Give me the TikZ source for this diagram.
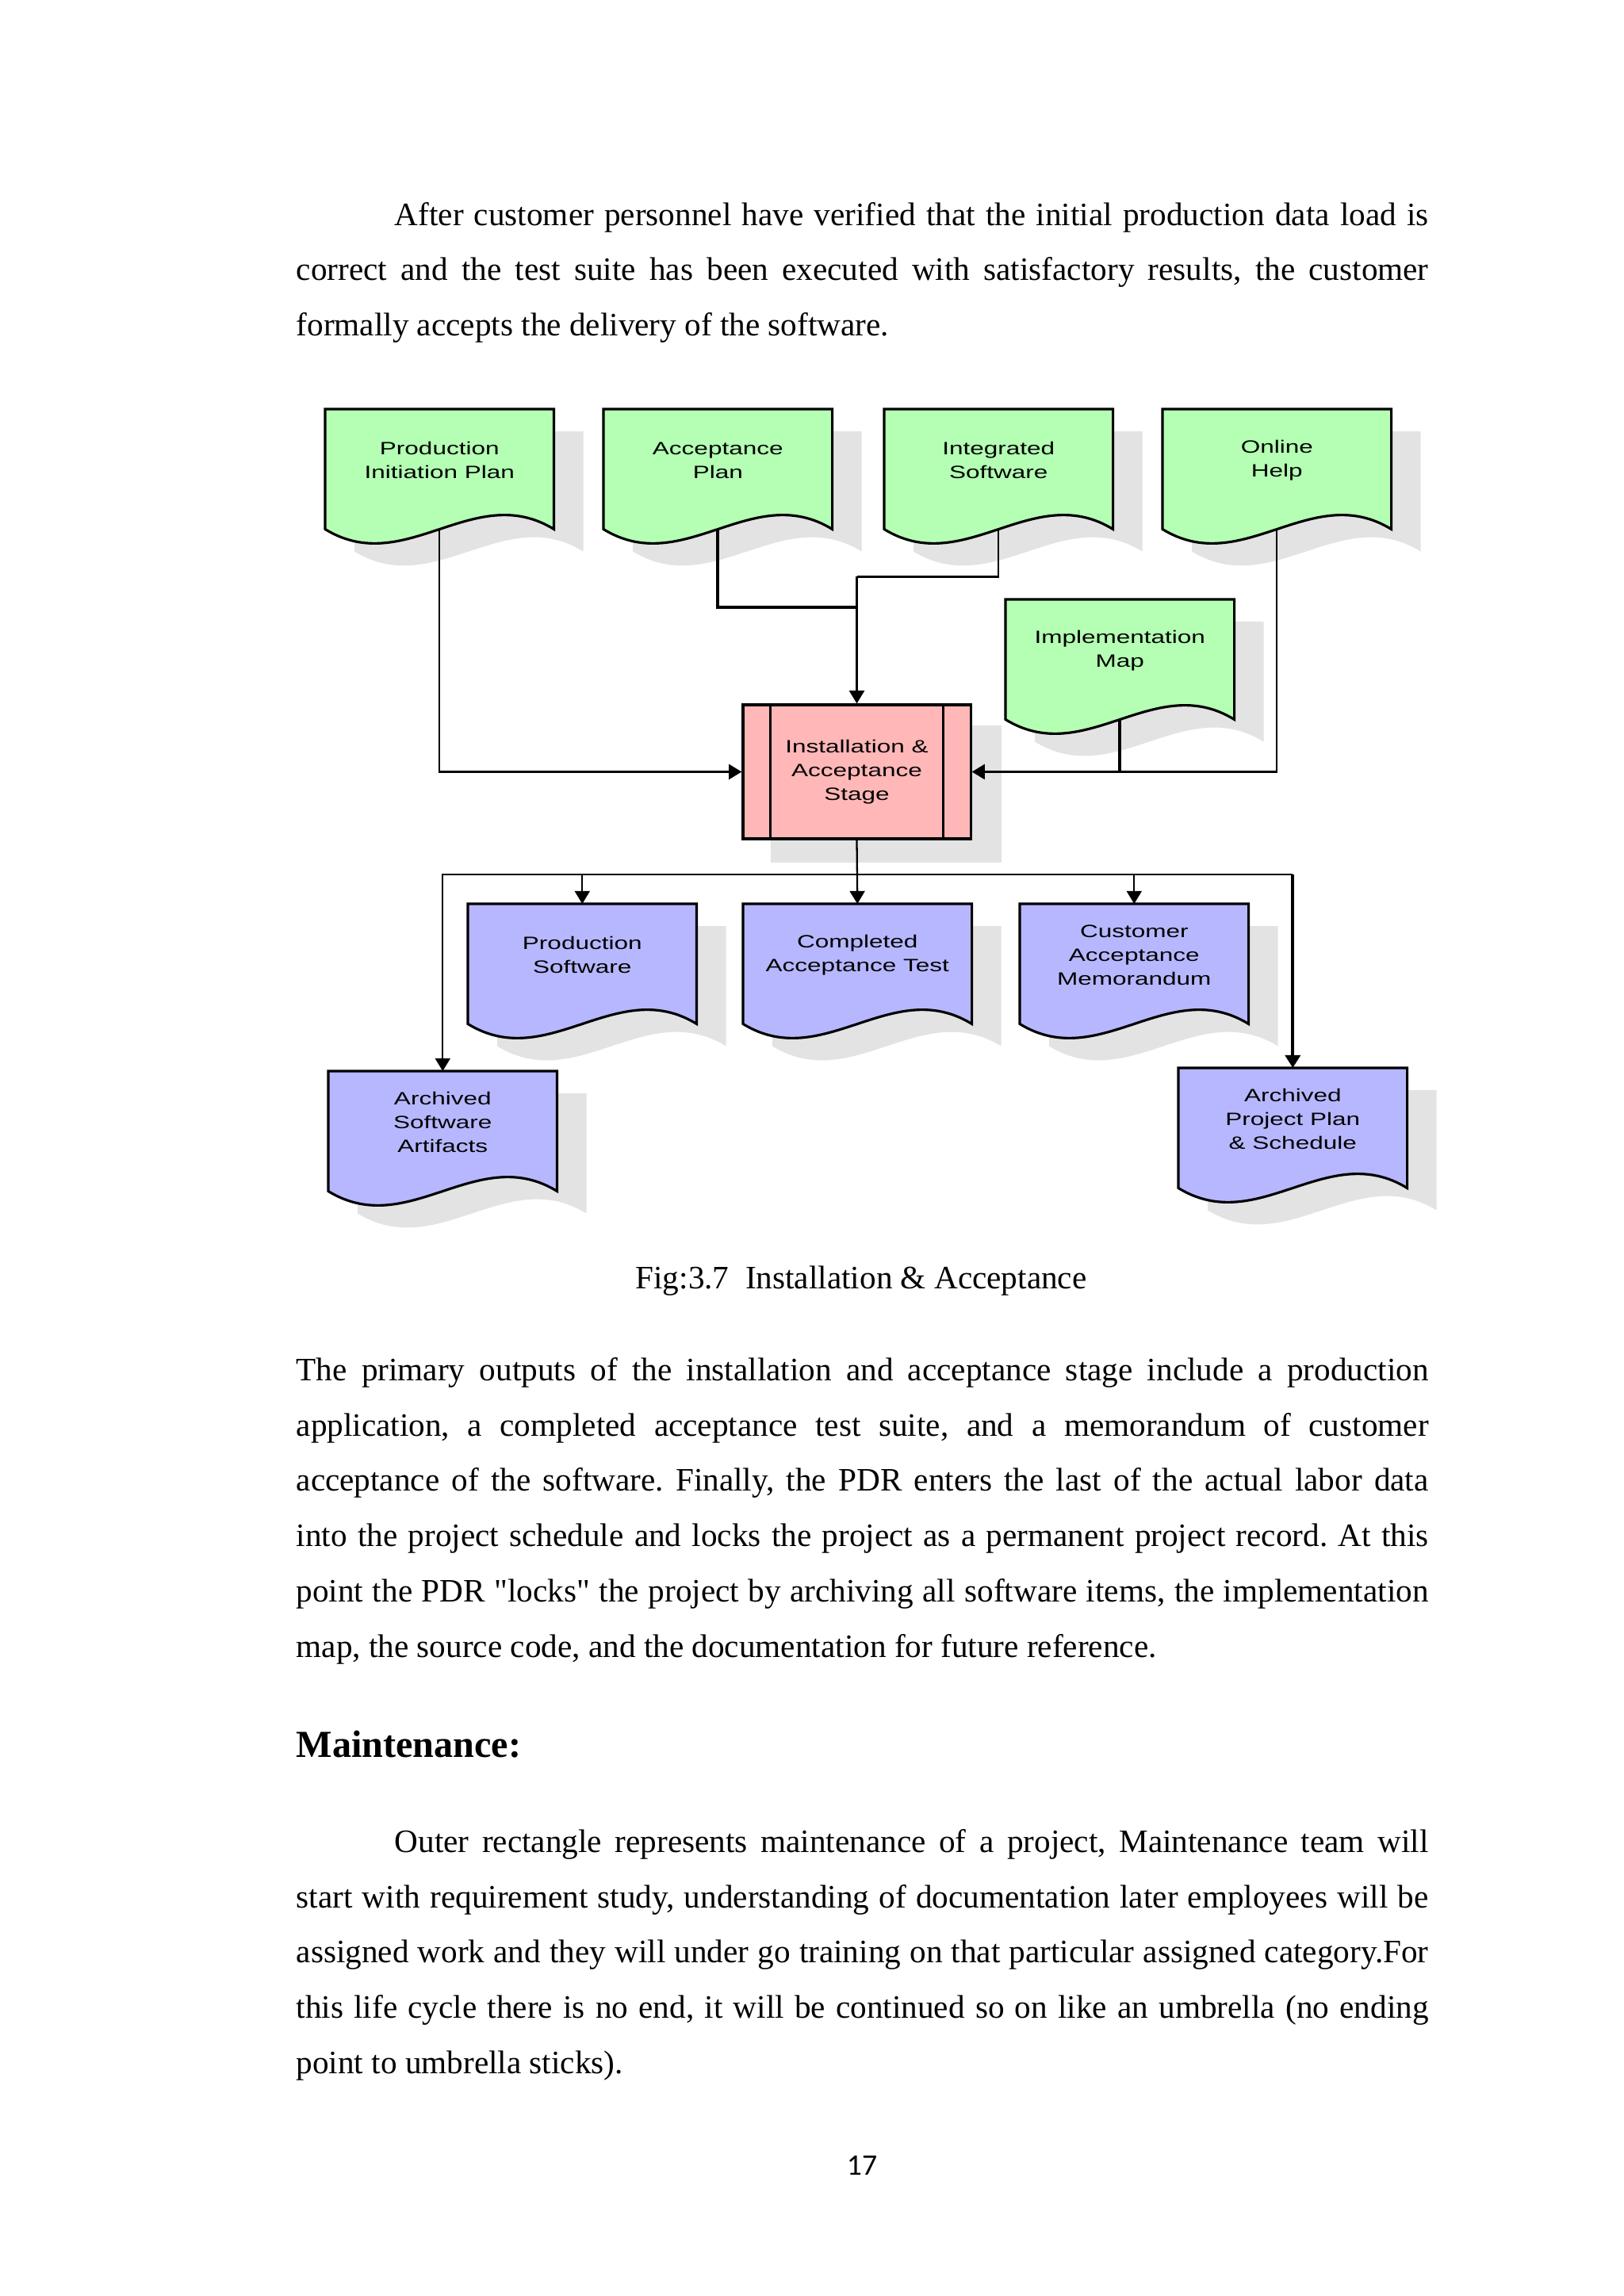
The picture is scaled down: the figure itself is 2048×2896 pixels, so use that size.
\documentclass[tikz,border=0pt]{standalone}
\usepackage{fontspec}
\setmainfont{Liberation Serif}[Ligatures=TeXOff]
\newfontfamily\diagfont[FakeStretch=1.4]{Liberation Sans}
\newfontfamily\numfont{Carlito}
\usetikzlibrary{calc,arrows.meta}
\pgfdeclarelayer{background}
\pgfsetlayers{background,main}

\tolerance=10000
\hyphenpenalty=10000
\frenchspacing

\definecolor{docgreen}{RGB}{180,255,180}
\definecolor{docblue}{RGB}{183,183,255}
\definecolor{stagepink}{RGB}{255,183,183}
\definecolor{shadowgray}{RGB}{227,227,227}

% wavy document outline round node #1, moved by (#2,#3)
\newcommand{\docpath}[3]{($(#1.north west)+(#2,#3)$) -- ($(#1.north east)+(#2,#3)$)
  -- ($(#1.south east)+(#2,22+#3)$)
  .. controls ($(#1.south west)!0.65!(#1.south east)+(#2,-40+#3)$)
  and ($(#1.south west)!0.35!(#1.south east)+(#2,84+#3)$)
  .. ($(#1.south west)+(#2,22+#3)$) -- cycle}

\tikzset{
  docnode/.style={anchor=north west, minimum width=2.87cm, minimum height=1.28cm,
    inner sep=0pt, align=center, font=\diagfont\fontsize{6.4}{8.5}\selectfont},
  stagebox/.style={draw, line width=0.9pt, fill=stagepink, minimum width=2.87cm,
    minimum height=1.69cm, inner sep=0pt, align=center,
    font=\diagfont\fontsize{6.4}{8.5}\selectfont},
  conn/.style={line width=0.65pt},
  thickconn/.style={line width=1.2pt},
  flowarrow/.style={-{Triangle[length=4.6pt,width=5.4pt]}},
  para/.style={anchor=base west, inner sep=0pt, text width=14.27cm, align=justify,
    font=\fontsize{11.72}{19.9}\selectfont},
}

\begin{document}
\begin{tikzpicture}[x=0.01cm, y=-0.01cm]
\useasboundingbox (0,0) rectangle (2048,2896);

% text above the figure
\node[para] (intro) at (373,284) {\hspace*{1.24cm}After customer personnel have verified that the initial production data load is\linebreak
correct and the test suite has been executed with satisfactory results, the customer\linebreak
formally accepts the delivery of the software.};

% inputs
\node[docnode] (pip) at (410,516) {Production\\Initiation Plan};
\node[docnode] (ap) at (761,516) {Acceptance\\Plan};
\node[docnode] (is) at (1115,516) {Integrated\\Software};
\node[docnode] (oh) at (1466,516) {Online\\Help};
\node[docnode] (im) at (1268,756) {Implementation\\Map};

% the stage
\node[stagebox] (stage) at (1080.5,973.5) {Installation \&\\Acceptance\\Stage};
\draw[line width=0.9pt] ([xshift=0.36cm]stage.north west) -- ([xshift=0.36cm]stage.south west);
\draw[line width=0.9pt] ([xshift=-0.36cm]stage.north east) -- ([xshift=-0.36cm]stage.south east);

% outputs
\node[docnode] (ps) at (590,1140) {Production\\Software};
\node[docnode] (cat) at (937,1140) {Completed\\Acceptance Test};
\node[docnode] (cam) at (1286,1140) {Customer\\Acceptance\\Memorandum};
\node[docnode] (asa) at (414,1351) {Archived\\Software\\Artifacts};
\node[docnode] (app) at (1486,1347) {Archived\\Project Plan\\\& Schedule};

% caption and text below
\node[anchor=base, inner sep=0pt, font=\fontsize{11.72}{14}\selectfont] (caption) at (1086,1625)
  {Fig:3.7\ \ Installation \& Acceptance};

\node[para] (outputs) at (373,1741) {The primary outputs of the installation and acceptance stage include a production\linebreak
application, a completed acceptance test suite, and a memorandum of customer\linebreak
acceptance of the software. Finally, the PDR enters the last of the actual labor data\linebreak
into the project schedule and locks the project as a permanent project record. At this\linebreak
point the PDR "locks" the project by archiving all software items, the implementation\linebreak
map, the source code, and the documentation for future reference.};

\node[anchor=base west, inner sep=0pt, font=\fontsize{13.7}{16}\selectfont\bfseries] (heading) at (373,2216) {Maintenance:};

\node[para] (maint) at (373,2336) {\hspace*{1.24cm}Outer rectangle represents maintenance of a project, Maintenance team will\linebreak
start with requirement study, understanding of documentation later employees will be\linebreak
assigned work and they will under go training on that particular assigned category.For\linebreak
this life cycle there is no end, it will be continued so on like an umbrella (no ending\linebreak
point to umbrella sticks).};

\node[anchor=base, inner sep=0pt, font=\numfont\fontsize{10.7}{12}\selectfont] (pagenum) at (1087,2743) {17};

% shadows and document shapes
\begin{pgfonlayer}{background}
\fill[white] (0,0) rectangle (2048,2896);
\fill[shadowgray] ([shift={(37,28)}]stage.north west) rectangle ([shift={(37,28)}]stage.south east);
\foreach \n/\c in {pip/docgreen,ap/docgreen,is/docgreen,oh/docgreen,im/docgreen,
    ps/docblue,cat/docblue,cam/docblue,asa/docblue,app/docblue}{
  \fill[shadowgray] \docpath{\n}{37}{28};
  \filldraw[fill=\c, line width=0.9pt] \docpath{\n}{0}{0};
  \coordinate (\n-out) at ($(\n.south)+(0,22)$);
}
\end{pgfonlayer}

% connectors
\coordinate (isjoin) at ($(stage.north)+(0,-160)$);
\coordinate (apjoin) at ($(stage.north)+(0,-121)$);
\coordinate (bus) at ($(stage.south)+(0,43)$);

\draw[conn,flowarrow] (pip-out) |- (stage.west);
\draw[thickconn] (ap-out) |- (apjoin);
\draw[conn] (is-out) |- (isjoin);
\draw[conn,flowarrow] (isjoin) -- (stage.north);
\draw[conn,flowarrow] (oh-out) |- (stage.east);
\draw[thickconn] (im-out) -- (im-out |- stage.east);

\draw[conn,flowarrow] (stage.south) -- (cat.north);
\draw[conn,flowarrow] (bus) -| (asa.north);
\draw[conn] (bus) -- (bus -| app.north);
\draw[thickconn,flowarrow] (bus -| app.north) -- (app.north);
\draw[conn,flowarrow] (bus -| ps.north) -- (ps.north);
\draw[conn,flowarrow] (bus -| cam.north) -- (cam.north);

\end{tikzpicture}
\end{document}
